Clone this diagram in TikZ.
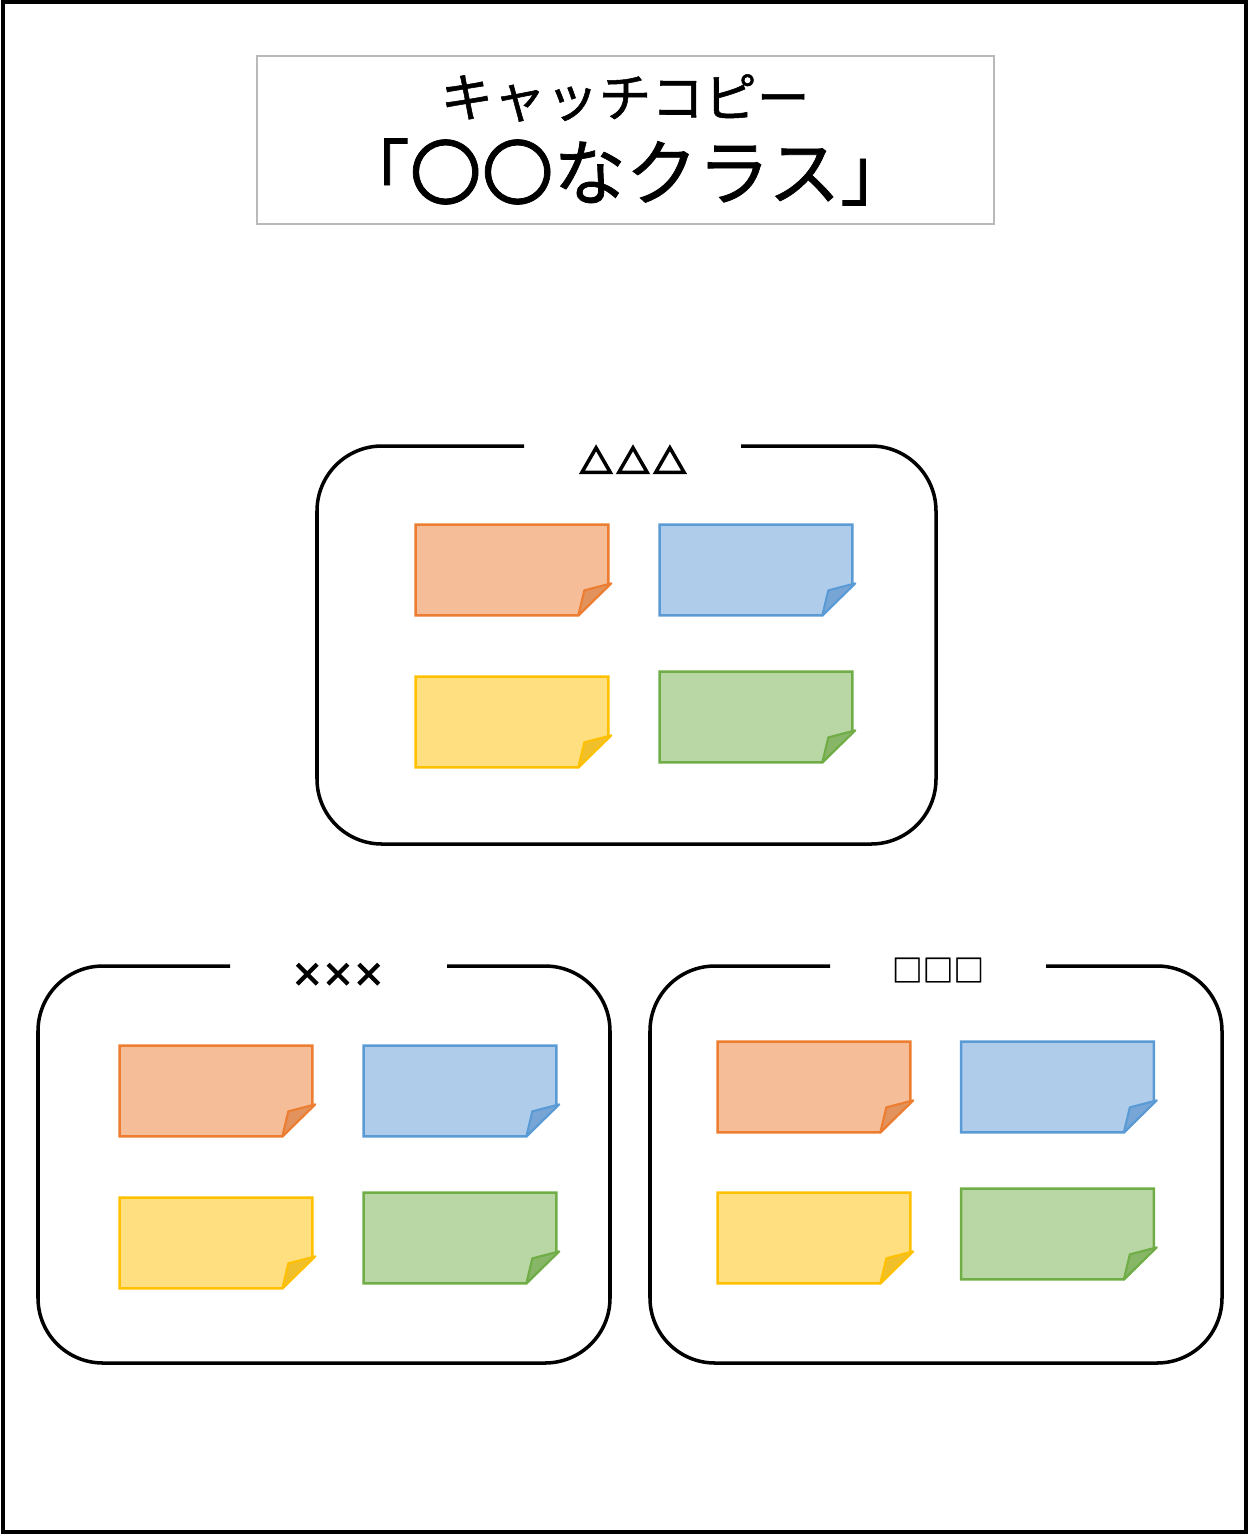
\documentclass[tikz,border=0pt]{standalone}
\usepackage{fontspec}
\setmainfont{Noto Sans CJK JP}
\newfontfamily\markfont[FakeBold=7]{Noto Sans CJK JP}
\newfontfamily\headfont[FakeBold=1]{Noto Sans CJK JP}
\usetikzlibrary{positioning}

\definecolor{orangeLine}{HTML}{ED7D31}
\definecolor{orangeFill}{HTML}{F5BE98}
\definecolor{orangeFlap}{HTML}{E2925C}
\definecolor{blueLine}{HTML}{5B9BD5}
\definecolor{blueFill}{HTML}{AFCDEA}
\definecolor{blueFlap}{HTML}{76A5D6}
\definecolor{yellowLine}{HTML}{FFC000}
\definecolor{yellowFill}{HTML}{FFDF80}
\definecolor{yellowFlap}{HTML}{F0C02C}
\definecolor{greenLine}{HTML}{70AD47}
\definecolor{greenFill}{HTML}{B9D7A4}
\definecolor{greenFlap}{HTML}{87B667}

\newcommand{\Note}[3]{%
	\node[noteStyle] (#1) at (#2) {};
	\draw[line width=1.5pt, draw=#3Line, fill=#3Fill, line join=miter] (#1.north west) -- (#1.north east) -- ([yshift=0.6cm]#1.south east) -- ([xshift=-0.6cm]#1.south east) -- (#1.south west) -- cycle;
	\draw[line width=1.2pt, draw=#3Line, fill=#3Flap, line join=round] ([xshift=-0.6cm]#1.south east) -- ++(6,-25) -- ++(27,-7) -- cycle;
}

\begin{document}
\begin{tikzpicture}[x = 0.02cm, y = -0.02cm]
	\tikzstyle{noteStyle}=[shape = rectangle, minimum width = 3.84cm, minimum height = 1.8cm, inner sep = 0pt]
	\tikzstyle{groupStyle}=[line width = 2pt, rounded corners = 1.3cm]
	\tikzstyle{labelStyle}=[inner sep = 0pt, font = \markfont\fontsize{18.5}{22}\selectfont]
	\useasboundingbox (0,0) rectangle (1250,1536);
	\draw[line width = 2.3pt] (3,2) rectangle (1246,1532);
	\draw[gray!55, line width = 0.8pt] (257,56) rectangle (994,224);
	\node[inner sep = 0pt, font = \headfont\fontsize{30}{36}\selectfont] (catch) at (625,98) {キャッチコピー};
	\node[inner sep = 0pt, font = \headfont\fontsize{41}{48}\selectfont] (title) at (625,172) {「〇〇なクラス」};
	\draw[groupStyle] (741,446) -- (936,446) -- (936,844) -- (317,844) -- (317,446) -- (524,446);
	\draw[groupStyle] (447,966) -- (610,966) -- (610,1363) -- (38,1363) -- (38,966) -- (230,966);
	\draw[groupStyle] (1046,966) -- (1222,966) -- (1222,1363) -- (650,1363) -- (650,966) -- (830,966);
	\node[labelStyle] (triangles) at (633,460) {△\hspace{2.5pt}△\hspace{2.5pt}△};
	\node[labelStyle, font = \markfont\fontsize{17.5}{21}\selectfont] (crosses) at (338,975) {×××};
	\node[labelStyle, font = \headfont\fontsize{17.5}{21}\selectfont] (squares) at (938,970) {□□□};
	\Note{t1}{512,570}{orange}
	\Note{t2}{756,570}{blue}
	\Note{t3}{512,722}{yellow}
	\Note{t4}{756,717}{green}
	\Note{l1}{216,1091}{orange}
	\Note{l2}{460,1091}{blue}
	\Note{l3}{216,1243}{yellow}
	\Note{l4}{460,1238}{green}
	\Note{r1}{814,1087}{orange}
	\Note{r2}{1057.5,1087}{blue}
	\Note{r3}{814,1238}{yellow}
	\Note{r4}{1057.5,1234}{green}
\end{tikzpicture}
\end{document}
